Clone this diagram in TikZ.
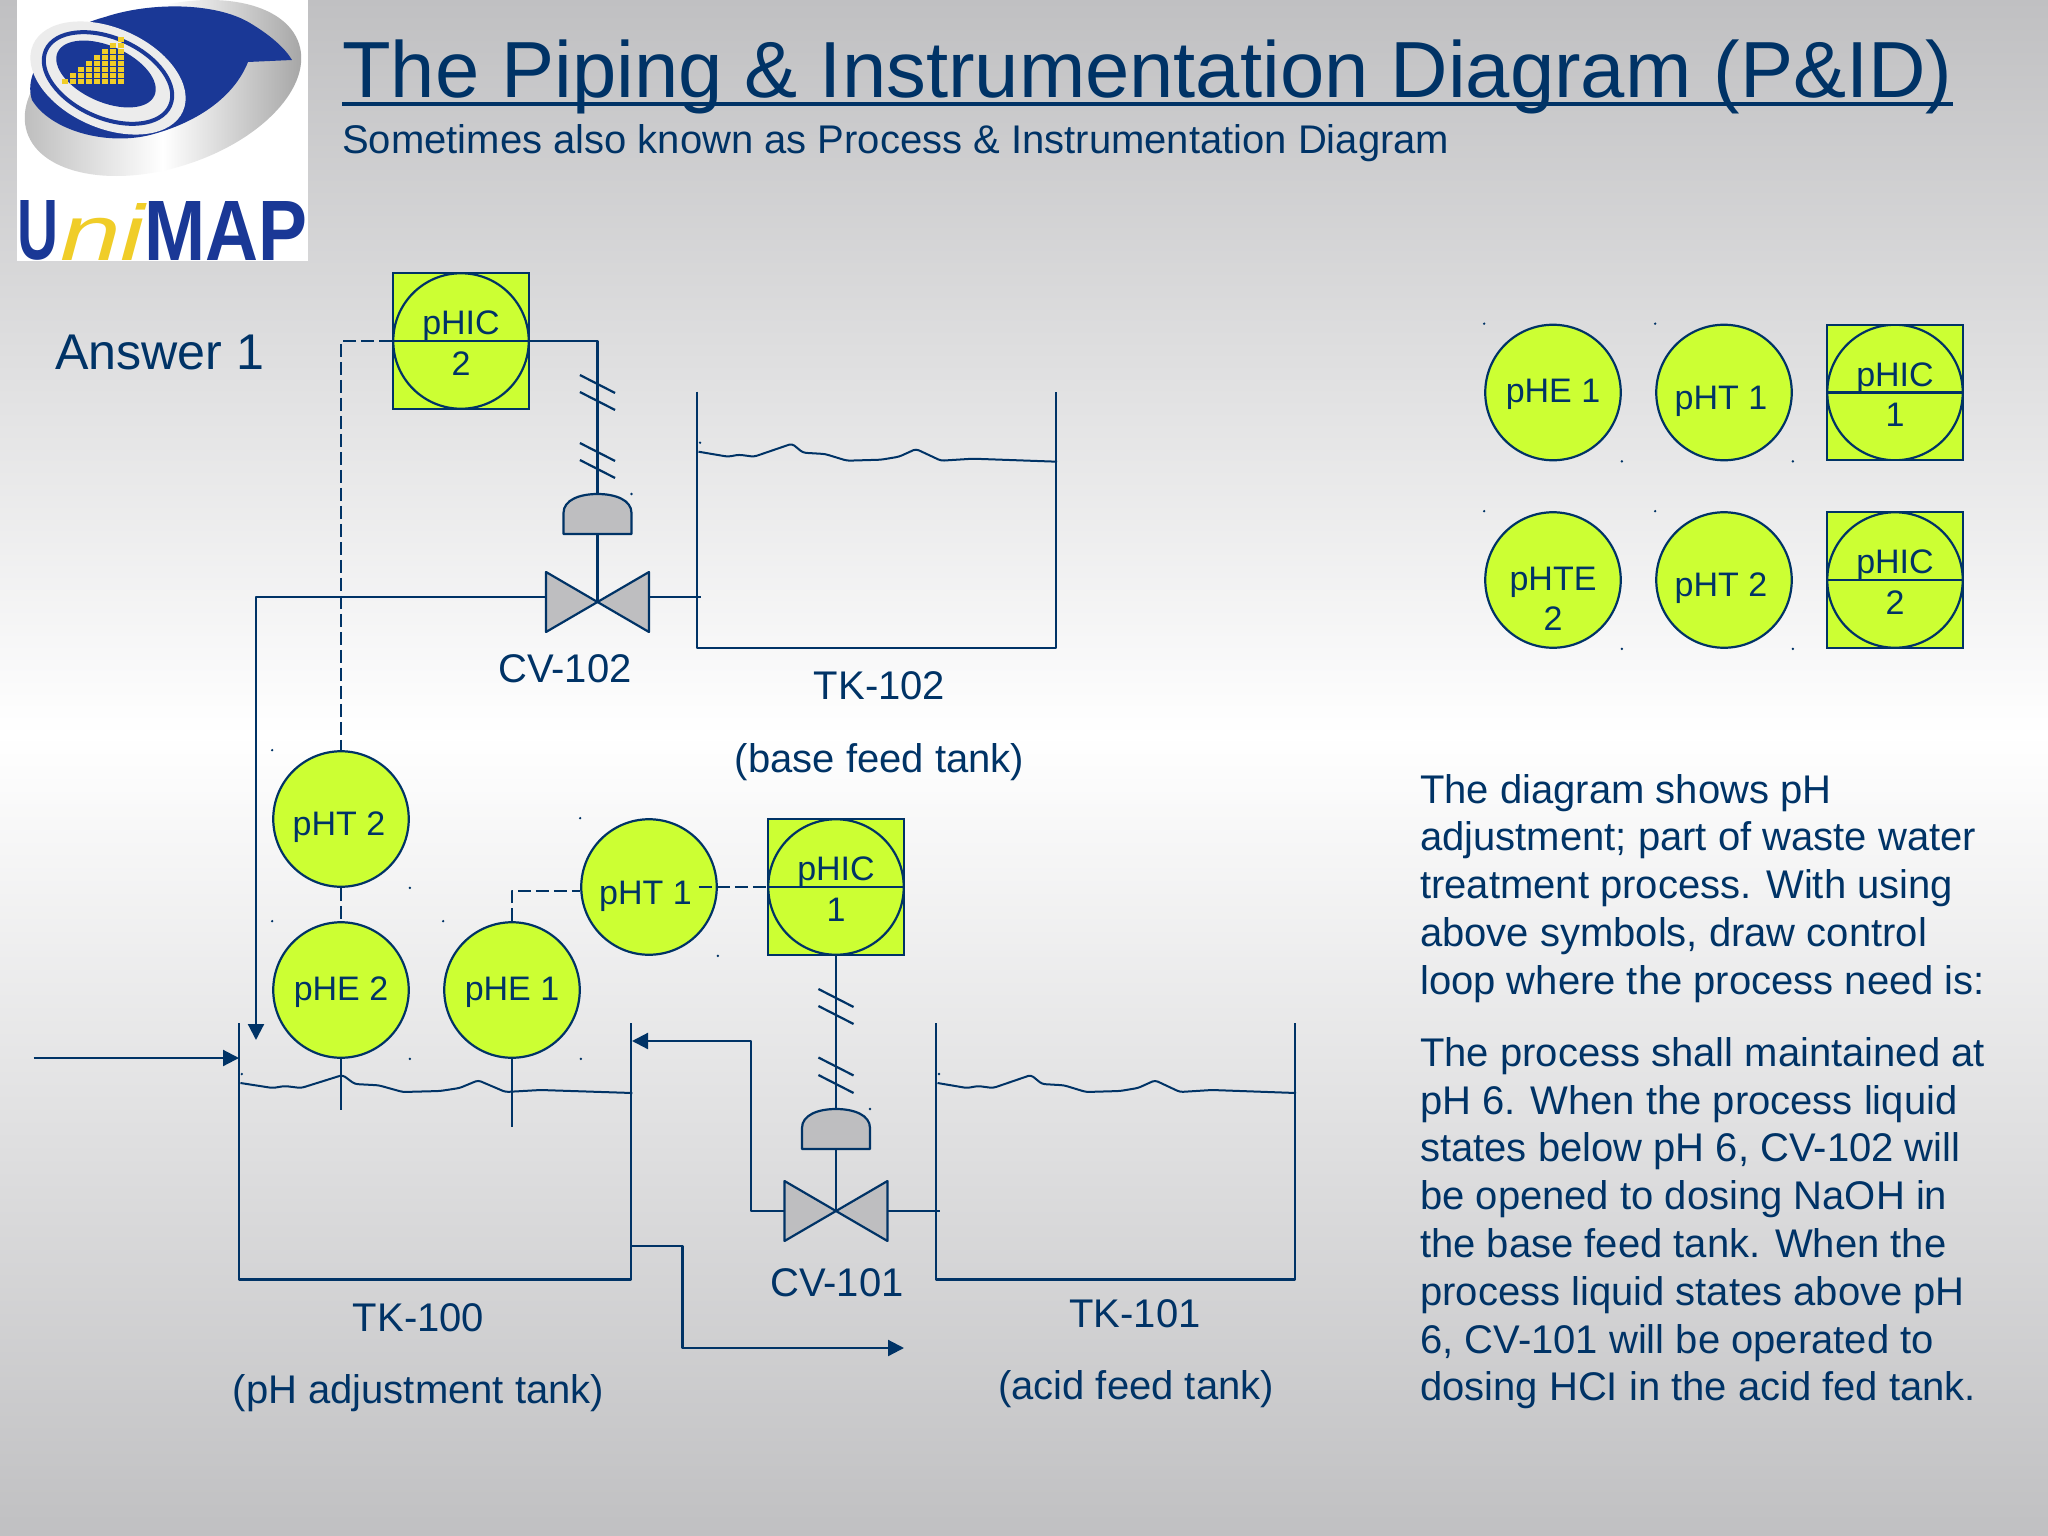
\documentclass[tikz,border=0pt]{standalone}
\usepackage{fontspec}
\setmainfont{Liberation Sans}
\usetikzlibrary{positioning, arrows.meta}
\definecolor{navy}{RGB}{0,51,102}
\definecolor{lime}{RGB}{204,255,51}
\definecolor{bgedge}{RGB}{192,192,194}
\definecolor{bodygrey}{RGB}{190,190,192}
\definecolor{logoblue}{RGB}{26,56,150}
\definecolor{logoyellow}{RGB}{240,205,40}
\newcommand{\tagtext}[2]{\smash{\raisebox{-#1pt}{#2}}}
\newcommand{\twotext}[3]{\smash{\raisebox{#1pt}{\makebox[0pt]{#2}\makebox[0pt]{\raisebox{-40.5pt}{#3}}}}}

\begin{document}
\begin{tikzpicture}[
  x=1pt, y=-1pt,
  every node/.style={text=navy, inner sep=0pt, font=\fontsize{34}{41}\selectfont},
  pipe/.style={draw=navy, line width=2.2pt, line join=round},
  signal/.style={pipe, dash pattern=on 13pt off 5pt},
  flow/.style={pipe, -{Triangle[length=16pt, width=16pt]}},
  inst/.style={circle, draw=navy, line width=2.2pt, fill=lime, minimum size=135.5pt},
  ctrl/.style={rectangle, draw=navy, line width=2.2pt, fill=lime, minimum size=135.5pt,
    path picture={
      \draw[navy, line width=2.2pt] (path picture bounding box.center) circle (67.75);
      \draw[navy, line width=2.2pt] (path picture bounding box.west) -- (path picture bounding box.east);
    }},
  lbl/.style={anchor=base, font=\fontsize{40}{48}\selectfont},
  para/.style={anchor=base west, align=left, font=\fontsize{40}{47.8}\selectfont}
]
\useasboundingbox (0,0) rectangle (2048,1536);

% Background
\shade[top color=bgedge, bottom color=white] (0,0) rectangle (2048,735);
\shade[top color=white, bottom color=bgedge] (0,734) rectangle (2048,1536);

% Logo
\fill[white] (17,0) rectangle (308,261);
\shade[left color=gray!55, right color=gray!75, middle color=white, rotate around={18:(163,88)}] (163,88) ellipse (143 and 80);
\fill[logoblue] (105,17) .. controls (150,2) and (215,2) .. (250,23) .. controls (270,35) and (285,48) .. (292,60) -- (248,62)
  .. controls (235,95) and (200,122) .. (150,135) .. controls (105,146) and (50,130) .. (32,100)
  .. controls (22,70) and (55,30) .. (105,17) -- cycle;
\fill[gray!15, rotate around={-24:(108,78)}] (108,78) ellipse (82 and 50);
\draw[logoblue, line width=4pt, rotate around={-24:(108,78)}] (108,78) ellipse (68 and 40);
\fill[logoblue, rotate around={-24:(106,74)}] (106,74) ellipse (53 and 28);
\foreach \i in {0,...,7} {
  \foreach \j in {0,...,\i} {
    \fill[logoyellow] (62+8*\i,84-6*\j) rectangle ++(6,-5);
  }
}
\node[anchor=south west] (logou) at (17,261) {\resizebox{41pt}{59pt}{\bfseries\color{logoblue}U}};
\node[anchor=south west] (logoni) at (60,261) {\resizebox{85pt}{57pt}{\itshape\color{logoyellow}ni}};
\node[anchor=south east] (logomap) at (308,261) {\resizebox{163pt}{59pt}{\bfseries\color{logoblue}MAP}};

% Title
\node[anchor=base west, font=\fontsize{79.6}{96}\selectfont] (title) at (342,98) {The Piping \& Instrumentation Diagram (P\&ID)};
\draw[navy, line width=4pt] ([yshift=-6pt]title.base west) -- ([yshift=-6pt]title.base east);
\node[anchor=base west, font=\fontsize{40}{48}\selectfont] (subtitle) at (342,153.3) {Sometimes also known as Process \& Instrumentation Diagram};
\node[anchor=base west, font=\fontsize{50.2}{60}\selectfont] (answer) at (55,369) {Answer 1};

% Tanks with liquid surface
\foreach \nm/\x/\y/\w/\s in {tankB/697/391.7/358.7/1, tankA/238.8/1023/392.2/1.093, tankC/936/1023/358.7/1} {
  \draw[pipe] (\x,\y) coordinate (\nm) -- ++(0,256.5) -- ++(\w,0) -- ++(0,-256.5);
  \draw[navy, line width=2pt, shift={(\x,\y)}, xscale=\s, rounded corners=3pt]
    (1.5,60) -- (31,65) -- (42,63) -- (57,65) -- (95,52) -- (106,61) -- (128,62.3) -- (150,69)
    -- (184,68) -- (202,65) -- (219,57.3) -- (244,69) -- (276,67) -- (360,70);
  \fill[navy, shift={(\x,\y)}] (3,51) circle (1.3);
}

% Control valves and actuators
\foreach \nm/\x/\y/\t in {B/597.5/602/494, C/836/1211/1109} {
  \coordinate (valve\nm) at (\x,\y);
  \coordinate (valve\nm w) at (\x-51.5,\y);
  \coordinate (valve\nm e) at (\x+51.5,\y);
  \coordinate (act\nm) at (\x,\t);
  \coordinate (act\nm s) at (\x,\t+40);
  \draw[pipe] (act\nm s) -- (valve\nm);
  \filldraw[pipe, fill=bodygrey] (valve\nm) -- ++(-51.5,-30) -- ++(0,60) -- cycle;
  \filldraw[pipe, fill=bodygrey] (valve\nm) -- ++(51.5,-30) -- ++(0,60) -- cycle;
  \filldraw[pipe, fill=bodygrey, shift={(act\nm)}] (-34,40) -- (-34,19)
    .. controls (-34,6) and (-18,0) .. (0,0) .. controls (18,0) and (34,6) .. (34,19) -- (34,40) -- cycle;
  \fill[navy, shift={(act\nm)}] (34,0) circle (1.3);
}

% Instruments
\node[ctrl] (ctrlB) at (461,341) {\twotext{6.5}{pHIC}{2}};
\node[ctrl] (ctrlA) at (836,887) {\twotext{6.5}{pHIC}{1}};
\node[inst] (phtB) at (341,819) {\tagtext{16}{\hspace{-4pt}pHT 2}};
\node[inst] (pheB) at (341,990) {\tagtext{10}{pHE 2}};
\node[inst] (pheA) at (512,990) {\tagtext{10}{pHE 1}};
\node[inst] (phtA) at (649,887) {\tagtext{17}{\hspace{-7pt}pHT 1}};

% Symbol legend
\node[inst] (legHEa) at (1553,392.5) {\tagtext{10}{pHE 1}};
\node[inst] (legHTa) at (1724,392.5) {\tagtext{16.5}{\hspace{-6pt}pHT 1}};
\node[ctrl] (legCa) at (1895,392.5) {\twotext{6.5}{pHIC}{1}};
\node[inst] (legHEb) at (1553,580) {\twotext{-10}{pHTE}{2}};
\node[inst] (legHTb) at (1724,580) {\tagtext{16.5}{\hspace{-6pt}pHT 2}};
\node[ctrl] (legCb) at (1895,580) {\twotext{6.5}{pHIC}{2}};
\foreach \n in {phtB, pheB, pheA, phtA, legHEa, legHTa, legHEb, legHTb} {
  \fill[navy] (\n.north -| \n.west) circle (1.3);
  \fill[navy] (\n.south -| \n.east) circle (1.3);
}

% Signal lines
\draw[signal] (ctrlB.west) -| (phtB.north);
\draw[signal] (phtB.south) -- (pheB.north);
\draw[signal] (pheA.north) |- ([yshift=-4pt]phtA.west);
\draw[signal] ([xshift=-19pt]phtA.east) -- (ctrlA.west);

% Valve air lines
\draw[pipe] (ctrlB.east) -| (actB);
\draw[pipe] (ctrlA.south) -- (actC);
\foreach \ty in {384,401,452,469} {
  \draw[pipe] (597.5-17.6,\ty-9) -- (597.5+17.6,\ty+9);
}
\foreach \ty in {998,1015,1066.5,1084} {
  \draw[pipe] (836-17.6,\ty-9) -- (836+17.6,\ty+9);
}

% Process pipes
\coordinate (feedin) at (33.5,1058);
\coordinate (feedA) at (239,1058);
\coordinate (baseout) at (701,597);
\coordinate (basedrop) at (256,1040);
\coordinate (acidout) at (940,1211);
\coordinate (acidturn) at (751,1211);
\coordinate (acidin) at (632,1041);
\coordinate (drainA) at (631,1245.7);
\coordinate (drainB) at (682.4,1348);
\coordinate (drainC) at (904,1348);
\draw[flow] (feedin) -- (feedA);
\draw[pipe] ([yshift=5pt]valveBe) -- (baseout);
\draw[flow] ([yshift=5pt]valveBw) -| (basedrop);
\draw[pipe] (valveCe) -- (acidout);
\draw[flow] (valveCw) -- (acidturn) |- (acidin);
\draw[flow] (drainA) -| (drainB) -- (drainC);

% Probes
\draw[pipe] (pheB.south) -- ++(0,51.6);
\draw[pipe] (pheA.south) -- ++(0,68.6);

% Labels
\node[lbl] (cvB) at (565,682) {CV-102};
\node[lbl] (tkB) at (879.5,699) {TK-102};
\node[lbl] (tkBsub) at (879.5,772) {(base feed tank)};
\node[lbl] (tkA) at (418.5,1331) {TK-100};
\node[lbl] (tkAsub) at (418.5,1403) {(pH adjustment tank)};
\node[lbl] (cvC) at (837,1296) {CV-101};
\node[lbl] (tkC) at (1135,1327.5) {TK-101};
\node[lbl] (tkCsub) at (1136,1399) {(acid feed tank)};

% Text on the right
\node[para] (parta) at (1420,994.3) {The diagram shows pH\\adjustment; part of waste water\\treatment process. With using\\above symbols, draw control\\loop where the process need is:};
\node[para] (partb) at (1420,1400.9) {The process shall maintained at\\pH 6. When the process liquid\\states below pH 6, CV-102 will\\be opened to dosing NaOH in\\the base feed tank. When the\\process liquid states above pH\\6, CV-101 will be operated to\\dosing HCI in the acid fed tank.};

\end{tikzpicture}
\end{document}
